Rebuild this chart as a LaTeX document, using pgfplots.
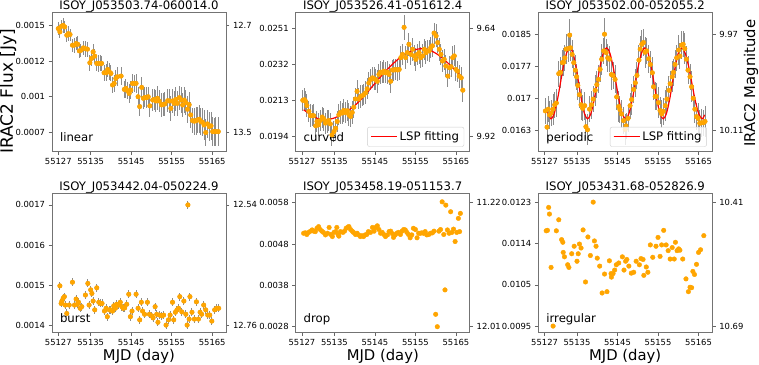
\documentclass[border=0pt]{standalone}
\usepackage{fontspec}
\setmainfont{DejaVu Sans}
\usepackage{pgfplots}
\usepackage{pgfplotstable}
\pgfplotsset{compat=1.18}
\definecolor{mplorange}{HTML}{FFA500}
\newcommand{\tickfont}{\fontsize{8.4}{9.5}\selectfont}
\newcommand{\titlefont}{\fontsize{11.7}{13}\selectfont}
\newcommand{\labfont}{\fontsize{14.8}{17}\selectfont}

% panel 1: flux in 1e-4 Jy
\pgfplotstableread{
t f e
55127.0 14.78 0.50
55127.4 14.53 0.45
55127.8 14.95 0.50
55128.2 15.02 0.55
55128.6 14.90 0.45
55129.1 14.28 0.50
55129.5 14.40 0.55
55129.9 14.33 0.45
55130.5 13.53 0.50
55130.9 13.53 0.55
55131.4 13.65 0.50
55131.8 13.60 0.60
55132.2 13.10 0.55
55132.6 13.15 0.50
55133.2 13.33 0.55
55133.6 13.28 0.60
55134.2 13.23 0.55
55134.8 12.21 0.60
55135.2 12.53 0.55
55135.6 13.03 0.60
55136.0 12.71 0.55
55136.5 12.16 0.60
55136.9 12.16 0.65
55137.3 12.16 0.60
55137.7 12.16 0.55
55138.3 11.46 0.60
55138.8 11.46 0.65
55139.2 11.71 0.60
55139.6 11.53 0.65
55140.0 11.41 0.60
55140.4 10.54 0.60
55140.8 10.66 0.65
55141.2 11.03 0.60
55141.6 11.16 0.70
55142.5 11.21 0.65
55143.3 10.21 0.65
55143.7 10.29 0.70
55144.1 10.11 0.65
55144.5 9.91 0.70
55144.9 10.16 0.65
55145.3 10.66 0.70
55145.7 10.66 0.65
55146.2 10.66 0.70
55146.7 9.66 0.75
55147.1 8.92 0.70
55147.6 10.36 0.75
55148.0 9.54 0.80
55148.4 9.61 0.75
55148.8 9.59 0.80
55149.2 9.66 0.75
55149.6 8.97 0.80
55150.3 9.41 0.85
55150.7 9.46 0.80
55151.1 9.34 0.85
55151.5 9.54 0.90
55151.9 9.34 0.85
55152.5 9.04 0.90
55152.9 9.09 0.85
55153.3 9.11 0.90
55154.0 9.36 0.85
55154.4 9.34 0.90
55154.8 8.79 0.95
55155.2 9.34 0.90
55155.6 9.16 0.95
55156.0 9.46 0.90
55156.4 9.16 0.95
55156.9 9.59 0.90
55157.3 9.41 0.95
55157.7 9.04 0.90
55158.1 9.41 1.00
55158.5 9.21 0.95
55158.9 8.72 1.00
55159.3 9.06 0.95
55159.7 8.29 1.00
55160.1 7.87 0.95
55160.6 7.82 1.00
55161.0 7.87 1.05
55161.4 7.92 1.00
55161.8 7.97 1.05
55162.2 7.79 1.00
55162.6 7.74 1.05
55163.0 7.54 1.10
55163.4 6.97 1.00
55163.8 7.62 1.05
55164.3 7.42 1.10
55164.7 7.47 1.05
55165.1 7.04 1.10
55165.5 7.04 1.05
55165.9 7.04 1.10
55166.5 7.04 1.10
}\tabA

% panel 2: flux in 1e-3 Jy
\pgfplotstableread{
t f e
55127.2 21.31 0.55
55127.6 21.34 0.60
55127.9 21.25 0.55
55128.2 21.03 0.60
55128.7 20.73 0.55
55129.1 20.50 0.60
55129.5 20.50 0.55
55129.9 20.50 0.60
55130.4 19.97 0.60
55130.7 20.20 0.55
55131.1 20.02 0.60
55131.5 20.25 0.55
55132.0 20.43 0.55
55132.4 20.32 0.60
55132.8 20.11 0.55
55133.2 20.20 0.60
55133.6 20.25 0.55
55134.0 20.07 0.55
55134.4 19.49 0.60
55134.9 19.67 0.55
55135.3 19.84 0.60
55135.7 20.20 0.55
55136.1 20.55 0.55
55136.5 20.67 0.60
55136.9 20.64 0.55
55137.3 20.78 0.60
55137.7 20.67 0.55
55138.2 20.76 0.55
55138.6 20.55 0.60
55139.0 20.46 0.55
55139.4 20.67 0.60
55139.8 20.95 0.55
55140.2 21.38 0.55
55140.6 21.78 0.60
55141.0 21.38 0.55
55141.5 21.52 0.60
55141.9 21.55 0.55
55142.3 21.61 0.55
55142.7 21.70 0.60
55143.1 21.91 0.55
55143.5 22.22 0.60
55143.9 22.40 0.55
55144.4 22.49 0.55
55144.8 22.44 0.60
55145.2 22.40 0.55
55145.6 22.31 0.60
55146.0 22.67 0.55
55146.4 22.79 0.60
55146.8 22.75 0.55
55147.2 22.84 0.60
55147.7 22.75 0.55
55148.1 22.79 0.60
55148.5 22.67 0.55
55148.9 22.31 0.60
55149.3 22.90 0.55
55149.7 22.90 0.60
55150.1 22.93 0.55
55150.6 22.90 0.60
55151.0 22.93 0.55
55151.4 23.55 0.60
55151.8 23.72 0.55
55152.2 25.14 0.65
55152.6 23.55 0.60
55153.0 23.81 0.55
55153.4 24.25 0.60
55153.9 23.72 0.55
55154.3 23.99 0.60
55154.7 23.64 0.55
55155.1 23.46 0.60
55155.5 23.72 0.55
55155.9 23.81 0.60
55156.3 23.55 0.55
55156.8 23.64 0.60
55157.2 23.99 0.55
55157.6 23.81 0.60
55158.0 23.90 0.55
55158.4 23.90 0.60
55158.8 24.08 0.55
55159.2 24.17 0.60
55159.6 24.84 0.55
55160.1 24.69 0.60
55160.5 24.34 0.55
55160.9 23.99 0.60
55161.3 23.72 0.55
55161.7 23.37 0.60
55162.1 23.46 0.55
55162.5 23.11 0.60
55163.0 22.58 0.55
55163.4 23.02 0.60
55163.8 23.07 0.55
55164.2 23.55 0.60
55164.6 23.64 0.55
55165.0 22.93 0.60
55165.4 22.84 0.55
55165.8 22.58 0.60
55166.3 22.49 0.55
55166.7 21.84 0.60
}\tabB

\pgfplotstableread{
t f
55127.41 20.81
55129.89 20.46
55131.96 20.28
55134.85 20.37
55137.33 20.64
55139.81 20.99
55142.29 21.52
55144.77 22.14
55147.25 22.75
55149.73 23.28
55152.21 23.72
55154.69 23.95
55156.34 24.02
55157.99 23.99
55160.47 23.72
55162.95 23.28
55164.60 22.93
55166.67 22.49
}\fitB

% panel 3: flux in 1e-3 Jy
\pgfplotstableread{
t f e
55127.2 16.75 0.30
55127.6 16.38 0.35
55127.9 16.79 0.30
55128.2 16.66 0.32
55128.6 16.70 0.30
55129.1 16.79 0.35
55129.5 16.89 0.30
55129.9 16.93 0.32
55130.5 17.60 0.30
55130.9 17.63 0.35
55131.4 17.85 0.30
55131.7 17.86 0.32
55132.0 17.96 0.30
55132.3 18.16 0.35
55132.8 18.17 0.30
55133.2 18.48 0.36
55133.4 18.19 0.30
55133.8 18.04 0.32
55134.2 17.85 0.30
55134.6 17.68 0.35
55134.9 17.53 0.30
55135.2 17.33 0.32
55135.6 17.12 0.30
55136.0 16.89 0.35
55136.4 16.81 0.30
55136.9 16.87 0.32
55137.2 16.39 0.30
55137.6 16.32 0.35
55138.1 16.79 0.30
55138.6 16.89 0.32
55139.0 17.02 0.30
55139.5 17.22 0.35
55139.9 17.35 0.30
55140.3 17.47 0.32
55140.7 17.70 0.30
55141.1 17.93 0.35
55141.6 18.12 0.30
55141.8 18.50 0.36
55142.2 18.08 0.30
55142.6 17.96 0.32
55143.0 17.93 0.30
55143.5 17.58 0.35
55143.9 17.56 0.30
55144.4 17.47 0.32
55144.8 17.07 0.30
55145.3 16.85 0.35
55145.6 16.78 0.30
55146.0 16.68 0.32
55146.5 16.53 0.30
55146.9 16.33 0.35
55147.1 16.41 0.30
55147.6 16.58 0.32
55148.1 16.87 0.30
55148.5 17.01 0.35
55149.0 17.24 0.30
55149.4 17.39 0.32
55149.8 17.56 0.30
55150.3 17.91 0.35
55150.6 18.16 0.30
55151.0 18.27 0.32
55151.4 18.31 0.30
55151.8 18.09 0.35
55152.2 18.12 0.30
55152.7 17.94 0.32
55153.1 17.81 0.30
55153.6 17.62 0.35
55153.9 17.30 0.30
55154.3 17.08 0.32
55154.6 17.08 0.30
55155.1 16.94 0.35
55155.5 16.76 0.30
55155.9 16.68 0.32
55156.3 16.74 0.30
55156.8 16.87 0.35
55157.2 17.02 0.30
55157.7 17.22 0.32
55158.0 17.37 0.30
55158.5 17.53 0.35
55158.8 17.63 0.30
55159.2 17.81 0.32
55159.6 17.96 0.30
55160.1 18.14 0.35
55160.4 18.00 0.30
55160.8 18.25 0.32
55161.2 18.27 0.30
55161.6 18.17 0.35
55162.0 17.93 0.30
55162.4 17.68 0.32
55162.9 17.53 0.30
55163.3 17.30 0.35
55163.7 17.04 0.30
55164.1 16.79 0.32
55164.5 16.62 0.30
55164.9 16.58 0.35
55165.3 16.47 0.30
55165.7 16.48 0.32
55166.2 16.48 0.30
55166.6 16.51 0.35
}\tabC

\pgfplotstableread{
t f
55127.30 16.78
55128.55 16.57
55129.33 16.68
55130.11 16.975
55130.90 17.38
55131.68 17.785
55132.46 18.08
55133.24 18.19
55133.97 18.08
55134.70 17.785
55135.43 17.38
55136.15 16.975
55136.88 16.68
55137.61 16.57
55138.39 16.68
55139.17 16.975
55139.96 17.38
55140.74 17.785
55141.52 18.08
55142.30 18.19
55143.08 18.08
55143.86 17.785
55144.65 17.38
55145.43 16.975
55146.21 16.68
55146.99 16.57
55147.78 16.68
55148.58 16.975
55149.37 17.38
55150.16 17.785
55150.96 18.08
55151.75 18.19
55152.51 18.08
55153.26 17.785
55154.02 17.38
55154.78 16.975
55155.53 16.68
55156.29 16.57
55157.04 16.68
55157.79 16.975
55158.55 17.38
55159.30 17.785
55160.05 18.08
55160.80 18.19
55161.65 18.08
55162.51 17.785
55163.36 17.38
55164.21 16.975
55165.07 16.68
55165.92 16.57
55166.50 16.66
}\fitC

% panel 4: flux in 1e-4 Jy
\pgfplotstableread{
t f e
55127.4 14.98 0.10
55127.7 14.54 0.10
55127.9 14.60 0.10
55128.2 14.67 0.10
55128.5 14.71 0.10
55128.7 14.50 0.10
55129.1 14.29 0.10
55129.7 14.50 0.10
55130.5 15.07 0.10
55131.0 14.50 0.10
55131.4 14.65 0.10
55131.7 14.52 0.10
55132.0 14.57 0.10
55132.4 14.42 0.10
55132.8 14.46 0.10
55133.7 14.75 0.10
55134.3 15.04 0.10
55134.6 14.50 0.10
55135.0 14.88 0.10
55135.3 14.79 0.10
55135.6 14.60 0.10
55136.0 14.38 0.10
55136.5 14.93 0.10
55137.0 14.57 0.10
55137.4 14.54 0.10
55137.8 14.54 0.10
55138.4 14.35 0.10
55138.8 14.42 0.10
55139.1 14.21 0.10
55139.6 14.38 0.10
55139.9 14.38 0.10
55140.4 14.35 0.10
55140.7 14.48 0.10
55141.1 14.42 0.10
55141.4 14.52 0.10
55141.9 14.50 0.10
55142.3 14.57 0.10
55142.7 14.46 0.10
55143.0 14.42 0.10
55143.4 14.43 0.10
55143.9 14.52 0.10
55144.4 14.77 0.10
55144.8 14.21 0.10
55145.2 14.35 0.10
55146.2 14.77 0.10
55146.7 14.42 0.10
55147.1 14.13 0.10
55147.5 14.57 0.10
55147.8 14.35 0.10
55148.3 14.27 0.10
55149.0 14.57 0.10
55149.5 14.27 0.10
55150.1 14.23 0.10
55150.4 14.18 0.10
55150.9 14.46 0.10
55151.3 14.27 0.10
55151.6 14.07 0.10
55152.0 14.25 0.10
55152.6 14.23 0.10
55153.0 14.25 0.10
55153.6 14.00 0.10
55154.2 14.13 0.10
55154.6 14.25 0.10
55155.2 14.57 0.10
55155.5 14.13 0.10
55155.9 14.32 0.10
55156.3 14.38 0.10
55156.7 14.42 0.10
55157.0 14.71 0.10
55157.5 14.33 0.10
55158.0 14.60 0.10
55158.5 14.27 0.10
55158.8 14.00 0.10
55159.0 17.00 0.10
55159.3 14.15 0.10
55159.5 14.71 0.10
55160.0 14.32 0.10
55160.6 14.15 0.10
55161.1 14.58 0.10
55161.6 14.15 0.10
55162.0 14.32 0.10
55162.4 14.27 0.10
55162.9 14.50 0.10
55163.4 14.38 0.10
55163.9 14.25 0.10
55164.4 14.25 0.10
55164.9 14.10 0.10
55165.6 14.38 0.10
55166.1 14.42 0.10
55166.6 14.42 0.10
}\tabD

% panel 5: flux in 1e-3 Jy
\pgfplotstableread{
t f
55127.4 5.06
55127.8 5.07
55128.2 5.03
55128.6 5.08
55129.1 5.11
55129.5 5.14
55129.9 5.11
55130.3 5.10
55130.7 5.18
55131.1 5.22
55131.5 5.15
55131.9 5.11
55132.3 5.08
55132.8 5.02
55133.3 5.06
55133.7 5.20
55134.1 5.03
55134.5 4.98
55134.9 5.08
55135.3 5.10
55135.6 5.20
55135.9 5.03
55136.1 4.99
55136.5 5.10
55137.1 5.08
55137.5 5.11
55137.9 5.18
55138.3 5.21
55138.6 5.22
55139.0 5.15
55139.4 5.11
55139.7 5.08
55140.2 5.03
55140.6 5.06
55141.0 5.02
55141.4 4.98
55141.8 5.00
55142.2 4.98
55142.6 5.02
55143.0 5.03
55143.4 5.10
55143.9 5.08
55144.4 5.20
55144.8 5.11
55145.2 5.20
55145.6 5.24
55146.0 5.15
55146.4 5.06
55146.8 5.08
55147.2 5.03
55147.6 4.98
55148.1 5.02
55148.5 5.10
55148.9 5.11
55149.3 5.05
55149.6 4.96
55150.0 5.02
55150.4 5.06
55150.8 5.08
55151.3 5.03
55151.7 5.11
55152.1 5.15
55152.5 5.14
55152.9 5.08
55153.3 5.03
55153.7 4.95
55154.1 5.02
55154.5 5.18
55155.0 5.15
55155.4 4.95
55155.8 5.06
55156.2 5.06
55156.6 5.07
55157.0 5.06
55157.4 5.10
55157.8 5.02
55158.3 5.03
55158.7 5.06
55159.2 5.07
55159.6 5.11
55160.0 3.10
55160.4 2.80
55160.8 5.11
55161.2 5.15
55161.6 5.82
55162.0 5.03
55162.3 3.69
55162.5 5.74
55162.9 5.14
55163.3 5.06
55163.7 5.58
55164.0 5.08
55164.4 5.16
55164.8 4.86
55165.2 5.08
55165.6 5.42
55165.9 5.10
55166.1 5.54
}\tabE

% panel 6: flux in 1e-3 Jy
\pgfplotstableread{
t f
55127.4 11.66
55127.7 11.67
55128.0 12.19
55128.2 12.04
55128.6 10.83
55129.1 9.50
55129.9 11.66
55130.5 11.91
55131.2 11.46
55131.5 11.40
55131.6 11.17
55131.9 11.07
55132.7 10.89
55133.0 10.83
55133.7 11.14
55134.3 11.31
55135.0 10.97
55135.3 11.14
55135.6 11.36
55136.0 11.27
55136.5 11.68
55137.1 10.50
55137.7 11.52
55138.3 11.10
55139.0 12.31
55139.3 11.43
55139.7 11.31
55140.0 11.04
55140.6 10.86
55141.2 10.25
55141.8 10.68
55142.4 10.28
55143.0 10.98
55143.4 10.69
55143.5 10.61
55143.9 10.69
55144.3 10.77
55144.7 10.89
55145.3 10.93
55146.2 11.07
55146.6 10.77
55147.0 10.97
55147.3 11.01
55147.8 10.86
55148.4 10.70
55149.0 10.72
55149.6 10.97
55150.4 10.89
55150.8 11.03
55151.3 11.01
55151.5 10.65
55152.1 10.84
55152.5 10.72
55153.1 11.34
55153.7 11.06
55154.5 11.31
55155.0 11.51
55155.5 11.08
55155.9 11.34
55156.4 11.67
55157.0 11.34
55157.5 11.21
55158.0 11.02
55158.5 11.28
55159.0 11.02
55159.3 11.40
55159.7 11.21
55160.1 11.25
55160.4 11.22
55161.1 11.02
55161.9 10.57
55162.5 10.28
55162.9 10.38
55163.3 10.37
55163.6 10.74
55164.0 10.67
55164.5 10.90
55165.0 11.17
55165.5 11.23
55166.3 11.55
}\tabF

\pgfplotsset{
  every axis title shift=0pt,
  base/.style={width=174pt,height=139.4pt,scale only axis,anchor=south west,
    xmin=55125.45,xmax=55168.4,
    scaled x ticks=false,scaled y ticks=false,
    axis line style={black!55,line width=0.8pt},
    tick align=outside, major tick length=3.5pt,
    every tick/.style={black!60,line width=0.8pt},
    tick label style={font=\tickfont,text=black},
  },
  panel/.style={base,
    xtick={55127,55135,55145,55155,55165},
    xticklabels={55127,55135,55145,55155,55165},
    tick pos=left,
    title style={font=\titlefont,at={(0.5,1)},anchor=base,yshift=3pt},
    legend style={at={(1,0)},anchor=south east,xshift=-5.5pt,yshift=5pt,
      draw=black!20,rounded corners=2pt,fill=white,fill opacity=0.8,text opacity=1,
      font=\titlefont,inner xsep=3pt,inner ysep=2.5pt},
  },
  twin/.style={base,axis x line=none,axis y line*=right},
  ebar/.style={only marks,mark=none,black!45,
    error bars/y dir=both,error bars/y explicit,error bars/error mark=none,
    error bars/error bar style={black!45,line width=1pt}},
  dots/.style={only marks,mark=*,mark size=2.3pt,color=mplorange},
  fit/.style={red,line width=1.2pt,smooth,mark=none,
    legend image code/.code={\draw[red,line width=1.2pt] (0pt,0pt) -- (18pt,0pt); \path (0pt,0pt) -- (26pt,0pt);}},
}
\newcommand{\ptag}[1]{\node[anchor=base west,font=\titlefont,inner sep=0pt] at (rel axis cs:0.045,0.05) [yshift=2.8pt] {#1};}

\begin{document}
\begin{tikzpicture}[x=1pt,y=1pt]
\useasboundingbox (0,0) rectangle (759,364);

% ---------- panel 1 ----------
\begin{axis}[panel,at={(52pt,212.3pt)},ymin=5.53,ymax=16.0,
  title={ISOY\_J053503.74-060014.0},
  ytick={7,9.6667,12.3333,15},yticklabels={0.0007,0.001,0.0012,0.0015}]
\addplot[forget plot,ebar] table[x=t,y=f,y error=e] {\tabA};
\addplot[forget plot,dots] table[x=t,y=f] {\tabA};
\ptag{linear}
\end{axis}
\begin{axis}[twin,at={(52pt,212.3pt)},ymin=5.53,ymax=16.0,
  ytick={7,15},yticklabels={13.5,12.7}]
\end{axis}

% ---------- panel 2 ----------
\begin{axis}[panel,at={(295.7pt,212.3pt)},ymin=18.61,ymax=25.93,
  title={ISOY\_J053526.41-051612.4},
  ytick={19.4,21.3,23.2,25.1},yticklabels={0.0194,0.0213,0.0232,0.0251}]
\addplot[forget plot,ebar] table[x=t,y=f,y error=e] {\tabB};
\addplot[fit] table[x=t,y=f] {\fitB};
\addlegendentry{LSP fitting}
\addplot[forget plot,dots] table[x=t,y=f] {\tabB};
\ptag{curved}
\end{axis}
\begin{axis}[twin,at={(295.7pt,212.3pt)},ymin=18.61,ymax=25.93,
  ytick={19.4,25.1},yticklabels={9.92,9.64}]
\end{axis}

% ---------- panel 3 ----------
\begin{axis}[panel,at={(538.3pt,212.3pt)},ymin=15.82,ymax=19.0,
  title={ISOY\_J053502.00-052055.2},
  ytick={16.3,17.0333,17.7667,18.5},yticklabels={0.0163,0.017,0.0177,0.0185}]
\addplot[forget plot,ebar] table[x=t,y=f,y error=e] {\tabC};
\addplot[fit] table[x=t,y=f] {\fitC};
\addlegendentry{LSP fitting}
\addplot[forget plot,dots] table[x=t,y=f] {\tabC};
\ptag{periodic}
\end{axis}
\begin{axis}[twin,at={(538.3pt,212.3pt)},ymin=15.82,ymax=19.0,
  ytick={16.3,18.5},yticklabels={10.11,9.97}]
\end{axis}

% ---------- panel 4 ----------
\begin{axis}[panel,at={(52pt,31.3pt)},ymin=13.81,ymax=17.29,
  title={ISOY\_J053442.04-050224.9},
  ytick={14,15,16,17},yticklabels={0.0014,0.0015,0.0016,0.0017}]
\addplot[forget plot,ebar] table[x=t,y=f,y error=e] {\tabD};
\addplot[forget plot,dots] table[x=t,y=f] {\tabD};
\ptag{burst}
\end{axis}
\begin{axis}[twin,at={(52pt,31.3pt)},ymin=13.81,ymax=17.29,
  ytick={14,17},yticklabels={12.76,12.54}]
\end{axis}

% ---------- panel 5 ----------
\begin{axis}[panel,at={(295.7pt,31.3pt)},ymin=2.655,ymax=6.026,
  title={ISOY\_J053458.19-051153.7},
  ytick={2.8,3.8,4.8,5.8},yticklabels={0.0028,0.0038,0.0048,0.0058}]
\addplot[forget plot,dots] table[x=t,y=f] {\tabE};
\ptag{drop}
\end{axis}
\begin{axis}[twin,at={(295.7pt,31.3pt)},ymin=2.655,ymax=6.026,
  ytick={2.8,5.8},yticklabels={12.01,11.22}]
\end{axis}

% ---------- panel 6 ----------
\begin{axis}[panel,at={(538.3pt,31.3pt)},ymin=9.35,ymax=12.51,
  title={ISOY\_J053431.68-052826.9},
  ytick={9.5,10.4333,11.3667,12.3},yticklabels={0.0095,0.0105,0.0114,0.0123}]
\addplot[forget plot,dots] table[x=t,y=f] {\tabF};
\ptag{irregular}
\end{axis}
\begin{axis}[twin,at={(538.3pt,31.3pt)},ymin=9.35,ymax=12.51,
  ytick={9.5,12.3},yticklabels={10.69,10.41}]
\end{axis}

% ---------- figure labels ----------
\node[rotate=90,font=\fontsize{17}{19}\selectfont,inner sep=0pt] at (8.3,272.5) {IRAC2 Flux [Jy]};
\node[rotate=90,font=\labfont,inner sep=0pt] at (751,281) {IRAC2 Magnitude};
\node[anchor=base,font=\labfont] at (139,4) {MJD (day)};
\node[anchor=base,font=\labfont] at (382.8,4) {MJD (day)};
\node[anchor=base,font=\labfont] at (625.2,4) {MJD (day)};
\end{tikzpicture}
\end{document}
